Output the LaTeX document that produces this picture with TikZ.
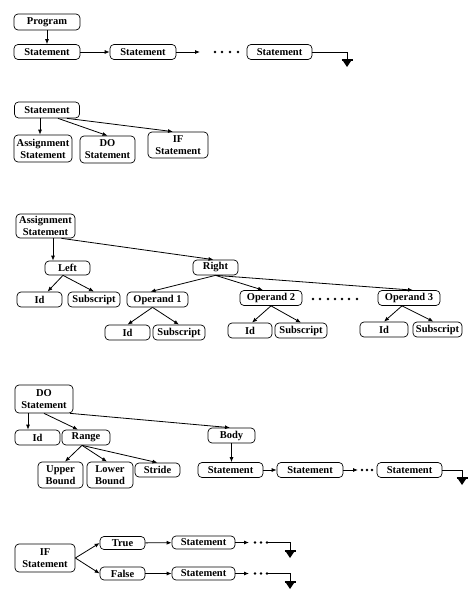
\documentclass[tikz,border=0pt]{standalone}
\usepackage{fontspec}
\setmainfont{Liberation Serif}
\usetikzlibrary{arrows.meta}
\tikzset{
  blk/.style={draw, rounded corners=4pt, line width=0.7pt, inner sep=1pt, align=center,
    font=\fontsize{10.5}{12}\selectfont\bfseries},
  arr/.style={-{Latex[length=5pt,width=4pt]}, line width=0.8pt},
  ground/.pic={
    \draw[line width=0.8pt] (0,0) -- (0,4);
    \draw[line width=1.2pt] (-5.5,4) -- (5.5,4);
    \fill (-4,5) -- (4,5) -- (0,11) -- cycle;
  }
}
\begin{document}
\begin{tikzpicture}[x=1pt,y=-1pt]
  \useasboundingbox (0,0) rectangle (474,593);
  % program
  \node[blk, minimum width=66, minimum height=16] (prog) at (47,22) {Program};
  \node[blk, minimum width=66, minimum height=15] (s1a) at (47,52) {Statement};
  \node[blk, minimum width=66, minimum height=15] (s1b) at (143,52) {Statement};
  \node[blk, minimum width=65, minimum height=15] (s1c) at (279.5,52) {Statement};
  \coordinate (e1) at (200,52);
  \coordinate (g1) at (347,56);
  % statement
  \node[blk, minimum width=65, minimum height=16] (st2) at (47,110) {Statement};
  \node[blk, minimum width=58, minimum height=27] (asg2) at (43,148.5) {Assignment\\Statement};
  \node[blk, minimum width=55, minimum height=27] (do2) at (107.5,149.5) {DO\\Statement};
  \node[blk, minimum width=60, minimum height=26] (if2) at (178,145) {IF\\Statement};
  % assignment
  \node[blk, minimum width=59, minimum height=24] (asg3) at (45.5,226) {Assignment\\Statement};
  \node[blk, minimum width=45, minimum height=14] (left) at (67.5,268) {Left};
  \node[blk, minimum width=45, minimum height=15] (right) at (215.5,267.5) {Right};
  \node[blk, minimum width=45, minimum height=15] (id3) at (39.5,299.5) {Id};
  \node[blk, minimum width=52, minimum height=15] (sub3) at (94,299.5) {Subscript};
  \node[blk, minimum width=61, minimum height=15] (op1) at (157.5,299.5) {Operand 1};
  \node[blk, minimum width=62, minimum height=15] (op2) at (271,298) {Operand 2};
  \node[blk, minimum width=62, minimum height=15] (op3) at (409,298) {Operand 3};
  \node[blk, minimum width=45, minimum height=15] (id31) at (127.5,332.5) {Id};
  \node[blk, minimum width=52, minimum height=15] (sub31) at (179,332.5) {Subscript};
  \node[blk, minimum width=44, minimum height=15] (id32) at (250,330.5) {Id};
  \node[blk, minimum width=52, minimum height=15] (sub32) at (301,330.5) {Subscript};
  \node[blk, minimum width=48, minimum height=15] (id33) at (384,329.5) {Id};
  \node[blk, minimum width=49, minimum height=15] (sub33) at (437.5,329.5) {Subscript};
  % do
  \node[blk, minimum width=58, minimum height=28] (do4) at (44,399) {DO\\Statement};
  \node[blk, minimum width=45, minimum height=15] (id4) at (37.5,437.5) {Id};
  \node[blk, minimum width=48, minimum height=15] (range) at (86,437.5) {Range};
  \node[blk, minimum width=47, minimum height=15] (body) at (231.5,435.5) {Body};
  \node[blk, minimum width=45, minimum height=26] (upper) at (60.5,475) {Upper\\Bound};
  \node[blk, minimum width=46, minimum height=26] (lower) at (110,475) {Lower\\Bound};
  \node[blk, minimum width=45, minimum height=14] (stride) at (157.5,470) {Stride};
  \node[blk, minimum width=65, minimum height=15] (s4a) at (230.5,470) {Statement};
  \node[blk, minimum width=66, minimum height=15] (s4b) at (310,470) {Statement};
  \node[blk, minimum width=65, minimum height=15] (s4c) at (409.5,470) {Statement};
  \coordinate (e4) at (358,470);
  \coordinate (g4) at (462,474);
  % if
  \node[blk, minimum width=60, minimum height=28] (if5) at (45,558) {IF\\Statement};
  \node[blk, minimum width=45, minimum height=13] (true) at (122.5,543) {True};
  \node[blk, minimum width=45, minimum height=13] (false) at (122.5,573.5) {False};
  \node[blk, minimum width=63, minimum height=13] (s5t) at (203.5,542.5) {Statement};
  \node[blk, minimum width=63, minimum height=13] (s5f) at (203.5,573.5) {Statement};
  \coordinate (e5t) at (249,542.5);
  \coordinate (f5t) at (268,542.5);
  \coordinate (g5t) at (290,547);
  \coordinate (e5f) at (249,573.5);
  \coordinate (f5f) at (268,573.5);
  \coordinate (g5f) at (290,578);
  \begin{scope}[arr]
    \draw (prog) -- (s1a);
    \draw (s1a) -- (s1b);
    \draw (s1b) -- (e1);
    \draw ([xshift=-7]st2.south) -- ([xshift=-3]asg2.north);
    \draw ([xshift=11]st2.south) -- (do2.north);
    \draw ([xshift=20]st2.south) -- ([xshift=-5]if2.north);
    \draw ([xshift=7.5]asg3.south) -- ([xshift=-14.5]left.north);
    \draw ([xshift=16]asg3.south) -- ([xshift=-2]right.north);
    \draw ([xshift=-4.5]left.south) -- ([xshift=8]id3.north);
    \draw ([xshift=-4.5]left.south) -- (sub3.north);
    \draw (right.south) -- ([xshift=-7]op1.north);
    \draw (right.south) -- ([xshift=-8]op2.north);
    \draw (right.south) -- ([xshift=4]op3.north);
    \draw ([xshift=-5]op1.south) -- (id31.north);
    \draw ([xshift=-5]op1.south) -- (sub31.north);
    \draw (op2.south) -- ([xshift=2]id32.north);
    \draw (op2.south) -- (sub32.north);
    \draw ([xshift=-7]op3.south) -- (id33.north);
    \draw ([xshift=-7]op3.south) -- ([xshift=-4]sub33.north);
    \draw ([xshift=-16]do4.south) -- ([xshift=-9.5]id4.north);
    \draw (do4.south) -- ([xshift=-8]range.north);
    \draw ([xshift=26]do4.south) -- ([xshift=-1.5]body.north);
    \draw ([xshift=-4]range.south) -- ([xshift=4.5]upper.north);
    \draw ([xshift=-4]range.south) -- ([xshift=-3]lower.north);
    \draw ([xshift=-4]range.south) -- (stride.north);
    \draw (body) -- ([xshift=1]s4a.north);
    \draw (s4a) -- (s4b);
    \draw (s4b) -- (e4);
    \draw (if5.east) -- (true.west);
    \draw (if5.east) -- (false.west);
    \draw (true) -- (s5t);
    \draw (false) -- (s5f);
    \draw (s5t) -- (e5t);
    \draw (s5f) -- (e5f);
  \end{scope}
  \begin{scope}[line width=0.8pt]
    \draw (s1c.east) -| (g1);
    \draw (s4c.east) -| (g4);
    \draw (f5t) -| (g5t);
    \draw (f5f) -| (g5f);
  \end{scope}
  \pic at (g1) {ground};
  \pic at (g4) {ground};
  \pic at (g5t) {ground};
  \pic at (g5f) {ground};
  \foreach \x in {215,222,230,238} \fill (\x,52) circle (1.3);
  \foreach \x in {313,320,328,335,342,349,357} \fill (\x,299) circle (1.3);
  \foreach \x in {362,367,372} \fill (\x,470) circle (1.3);
  \foreach \x in {255,261,267} {
    \fill (\x,542.5) circle (1.3);
    \fill (\x,573.5) circle (1.3);
  }
\end{tikzpicture}
\end{document}
